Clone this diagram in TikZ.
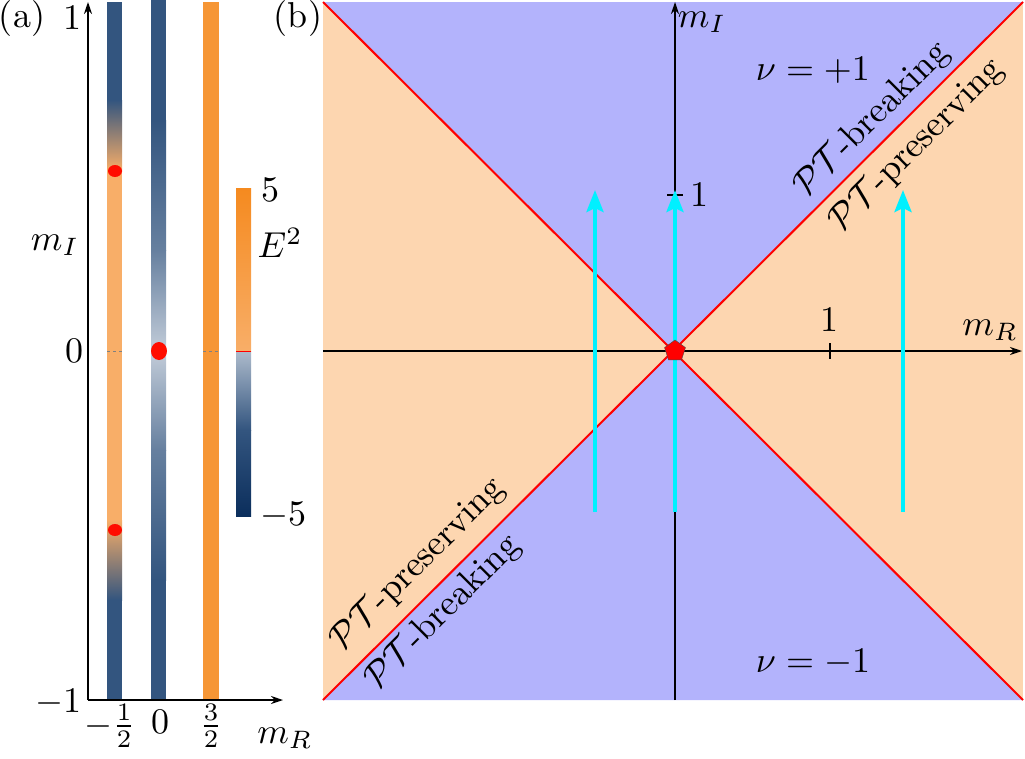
\documentclass[tikz,border=0pt]{standalone}
\usetikzlibrary{shapes.geometric,arrows.meta}
\definecolor{bblue}{HTML}{33557F}
\definecolor{lorange}{HTML}{F8AE68}
\definecolor{dorange}{HTML}{F58A1F}
\definecolor{regblue}{HTML}{B3B3FC}
\definecolor{regorange}{HTML}{FDD6B0}
\definecolor{navy}{HTML}{0B2E5C}
\definecolor{cyanar}{HTML}{00F0FF}
\begin{document}
\begin{tikzpicture}[x=1pt,y=-1pt,
  lbl/.style={scale=3.6,transform shape,inner sep=0pt},
  ax/.style={-{Stealth[length=12pt,width=8pt]},line width=1.4pt},
  cy/.style={-{Stealth[length=22pt,width=17pt,inset=4pt]},line width=4pt,cyanar},
  dot/.style={fill=red!90!orange,draw=none}]
\useasboundingbox (0,0) rectangle (1025,758);
% panel b
\fill[regorange] (323,2) rectangle (1023,700);
\fill[regblue] (323,2) -- (1023,2) -- (673,351) -- cycle;
\fill[regblue] (323,700) -- (1023,700) -- (673,351) -- cycle;
\draw[red,line width=2pt] (323,2) -- (1023,700);
\draw[red,line width=2pt] (323,700) -- (1023,2);
\coordinate (bxl) at (323,351); \coordinate (bxr) at (1022,351);
\coordinate (byb) at (675,700); \coordinate (byt) at (675,2);
\draw[ax] (bxl) -- (bxr);
\draw[ax] (byb) -- (byt);
\draw[line width=1.2pt] (830,343) -- (830,359);
\draw[line width=1.2pt] (667,195) -- (683,195);
\node[lbl] (t1x) at (829,320) {$1$};
\node[lbl] (t1y) at (699,195) {$1$};
\node[lbl] (mI) at (702,22) {$m_I$};
\node[lbl] (mR) at (990,330) {$m_R$};
\node[lbl] (nup) at (813,70) {$\nu=+1$};
\node[lbl] (ndn) at (813,662) {$\nu=-1$};
\node[lbl,rotate=45] (ur1) at (872,120) {$\mathcal{PT}$-breaking};
\node[lbl,rotate=45] (ur2) at (917,146) {$\mathcal{PT}$-preserving};
\node[lbl,rotate=45] (ll1) at (418,565) {$\mathcal{PT}$-preserving};
\node[lbl,rotate=45] (ll2) at (443,613) {$\mathcal{PT}$-breaking};
\foreach \x/\n in {595/a,675/b,903/c}{
  \coordinate (s\n) at (\x,512); \coordinate (e\n) at (\x,190);
  \draw[cy] (s\n) -- (e\n);}
\node[regular polygon,regular polygon sides=5,fill=red,draw=black!70,line width=0.4pt,minimum size=22pt,inner sep=0pt] (pent) at (675,351) {};
% panel a bars
\fill[bblue] (107,2) rectangle (122,100);
\shade[top color=bblue,bottom color=lorange] (107,100) rectangle (122,171);
\fill[lorange] (107,171) rectangle (122,520);
\shade[top color=lorange,bottom color=bblue] (107,520) rectangle (122,600);
\fill[bblue] (107,600) rectangle (122,700);
\fill[bblue] (151,0) rectangle (166,120);
\shade[top color=bblue,bottom color=bblue!75!white] (151,120) rectangle (166,250);
\shade[top color=bblue!75!white,bottom color=white!70!bblue] (151,250) rectangle (166,351);
\shade[top color=white!70!bblue,bottom color=bblue!75!white] (151,351) rectangle (166,450);
\shade[top color=bblue!75!white,bottom color=bblue] (151,450) rectangle (166,580);
\fill[bblue] (151,580) rectangle (166,700);
\fill[dorange!90!white] (203,2) rectangle (219,700);
\draw[gray,dashed,line width=0.4pt] (107,351) -- (122,351);
\draw[gray,dashed,line width=0.4pt] (203,351) -- (219,351);
\fill[dot] (115,171) ellipse (7 and 6);
\fill[dot] (115,530) ellipse (7 and 6);
\fill[dot] (159,351) ellipse (8 and 9);
% colorbar
\shade[top color=dorange,bottom color=lorange] (236,188) rectangle (251,351);
\shade[top color=white!60!bblue,bottom color=bblue] (236,351) rectangle (251,430);
\shade[top color=bblue,bottom color=navy] (236,430) rectangle (251,516);
\draw[red,line width=1pt] (236,351) -- (251,351);
\node[lbl] (c5) at (270,190) {$5$};
\node[lbl] (cm5) at (283,515) {$-5$};
\node[lbl] (E2) at (280,243) {$E^2$};
% axes a
\coordinate (ao) at (88,700); \coordinate (at) at (88,2); \coordinate (ar) at (283,700);
\draw[ax] (ao) -- (at);
\draw[ax] (ao) -- (ar);
\node[lbl] (a1) at (72,18) {$1$};
\node[lbl] (a0) at (74,351) {$0$};
\node[lbl] (am1) at (58,702) {$-1$};
\node[lbl] (amI) at (55,245) {$m_I$};
\node[lbl] (xh) at (110,726) {$-\frac{1}{2}$};
\node[lbl] (x0) at (160,722) {$0$};
\node[lbl] (x32) at (211,726) {$\frac{3}{2}$};
\node[lbl] (xmR) at (285,738) {$m_R$};
\node[lbl] (la) at (22,18) {(a)};
\node[lbl] (lb) at (298,18) {(b)};
\end{tikzpicture}
\end{document}
